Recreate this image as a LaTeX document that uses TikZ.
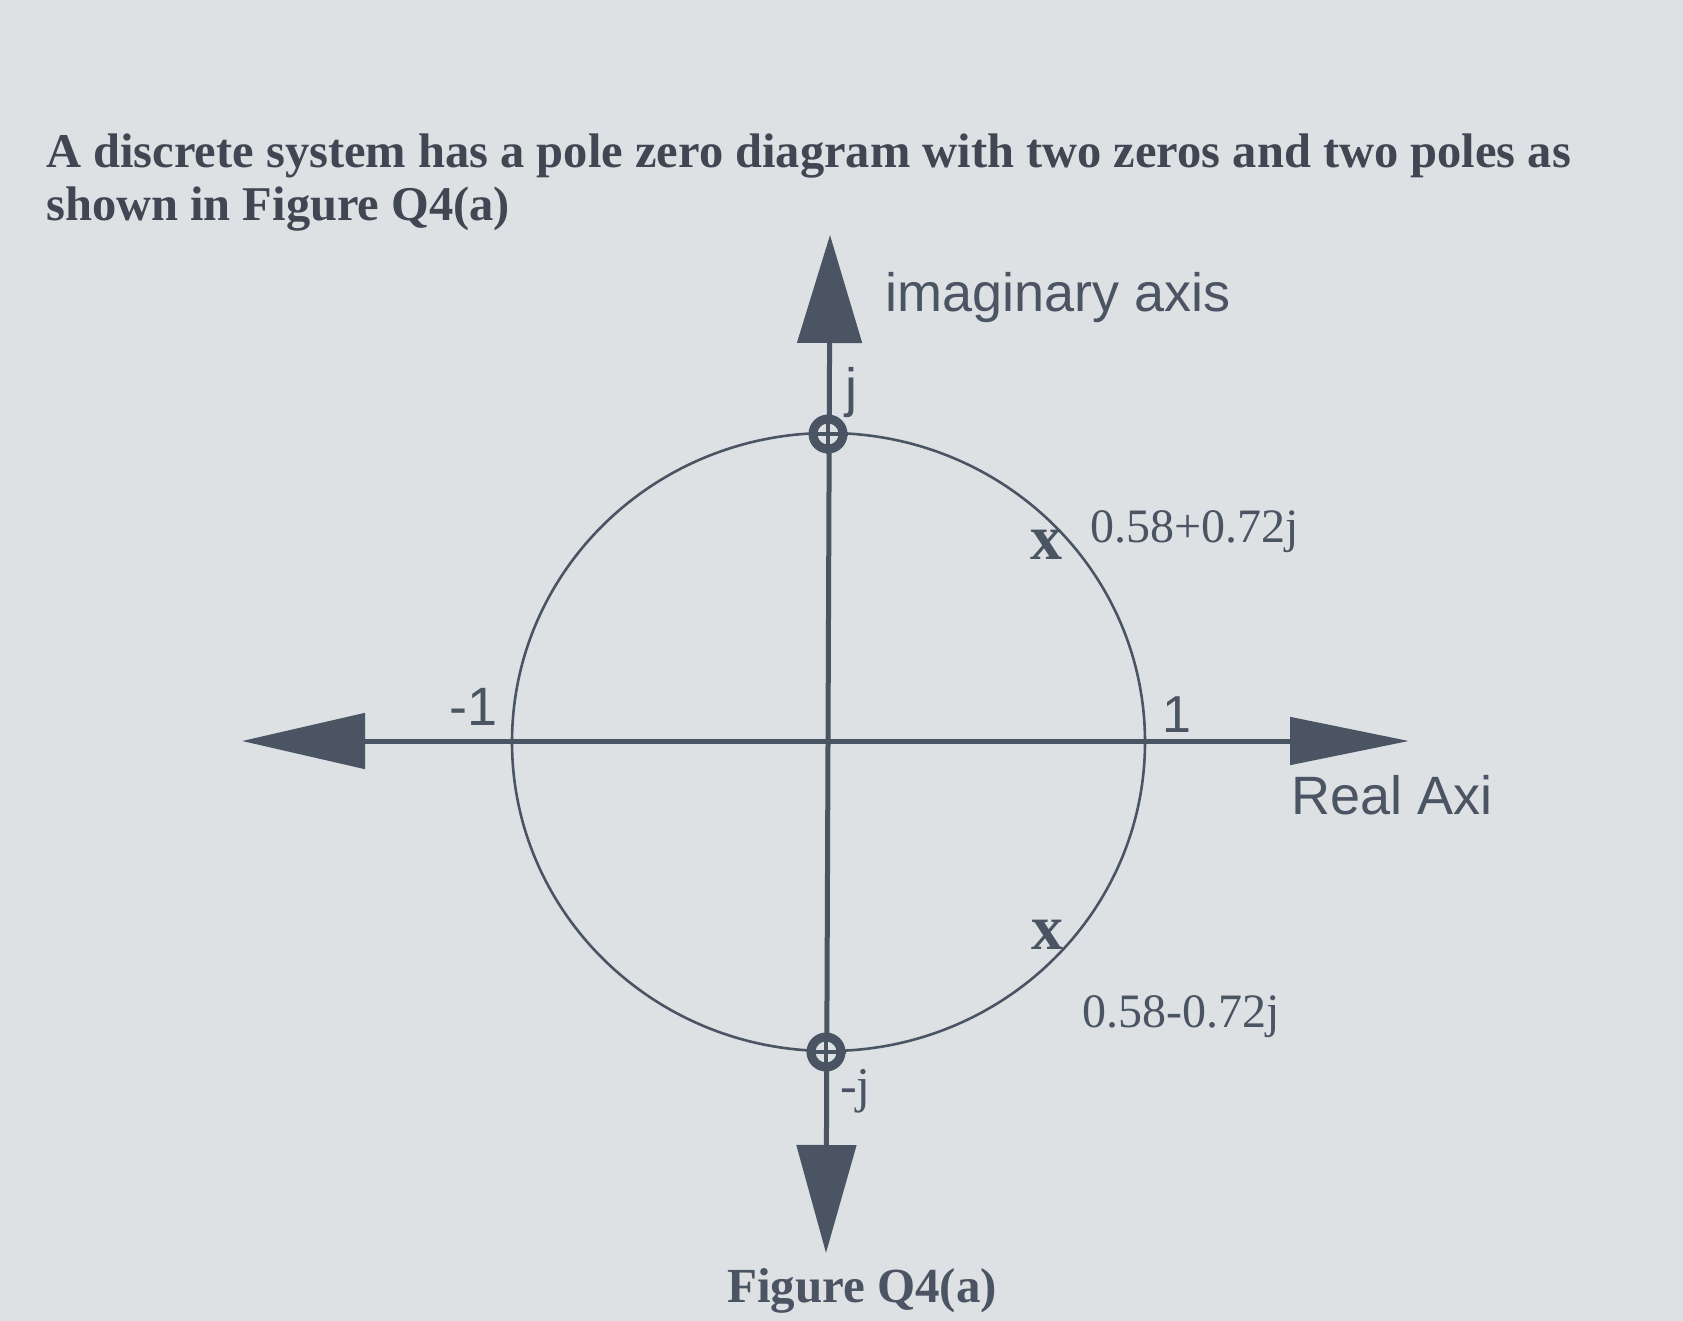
\documentclass[tikz,border=0pt]{standalone}
\usepackage{fontspec}
\setmainfont{Liberation Serif}
\newfontfamily\arialfont{Liberation Sans}
\usetikzlibrary{arrows.meta}
\definecolor{bgcol}{RGB}{221,225,228}
\definecolor{inkcol}{RGB}{64,70,82}
\definecolor{diagcol}{RGB}{74,84,98}
\tikzset{
  sanslabel/.style={inner sep=0pt, anchor=base west, text=diagcol, font=\arialfont\fontsize{54}{60}\selectfont},
  seriflabel/.style={inner sep=0pt, anchor=base west, text=diagcol, font=\fontsize{48}{54}\selectfont},
  titletext/.style={inner sep=0pt, anchor=base west, text=inkcol, font=\bfseries\fontsize{48.5}{54}\selectfont},
  polemark/.style={inner sep=0pt, text=diagcol, font=\bfseries\fontsize{64}{64}\selectfont},
  zeromark/.style={circle, draw=diagcol, fill=bgcol, line width=9pt, minimum size=30pt, inner sep=0pt},
  axisline/.style={draw=diagcol, line width=5pt},
  unitcircle/.style={draw=diagcol, line width=2.6pt}
}
\begin{document}
\begin{tikzpicture}[x=1pt, y=-1pt]
\fill[bgcol] (0,0) rectangle (1683,1321);
\useasboundingbox (0,0) rectangle (1683,1321);

% title
\node[titletext] (t1) at (46,168) {A discrete system has a pole zero diagram with two zeros and two poles as};
\node[titletext] (t2) at (46,221) {shown in Figure Q4(a)};

% axes
\coordinate (O) at (828,741);
\coordinate (L) at (242,741);
\coordinate (R) at (1409,741);
\coordinate (T) at (830,235);
\coordinate (B) at (826,1253);
\draw[axisline, {Triangle[length=123pt,width=55pt]}-{Triangle[length=119pt,width=47pt]}] (L) -- (R);
\draw[axisline, {Triangle[length=108pt,width=64pt]}-{Triangle[length=108pt,width=59pt]}] (T) -- (B);

% unit circle
\draw[unitcircle] (828.5,742) ellipse [x radius=316.5pt, y radius=309pt];

% zeros
\node[zeromark] (z1) at (828,434) {};
\node[zeromark] (z2) at (826,1052) {};
\draw[diagcol, line width=3.5pt] (z1.west) -- (z1.east);
\draw[diagcol, line width=3.5pt] (z1.north) -- (z1.south);
\draw[diagcol, line width=3.5pt] (z2.west) -- (z2.east);
\draw[diagcol, line width=3.5pt] (z2.north) -- (z2.south);

% poles
\node[polemark] (p1) at (1046,545) {x};
\node[polemark] (p2) at (1047,935) {x};

% labels
\node[sanslabel] (imlab) at (885,312) {imaginary axis};
\node[sanslabel] (jlab) at (845,406) {j};
\node[sanslabel, anchor=base east] (m1lab) at (498,725) {-1};
\node[sanslabel, font=\arialfont\fontsize{52}{58}\selectfont] (onelab) at (1162,732) {1};
\node[sanslabel] (relab) at (1291,814) {Real Axi};
\node[seriflabel, font=\fontsize{50}{56}\selectfont] (mjlab) at (840,1102) {-j};
\node[seriflabel] (p1lab) at (1090,542) {0.58+0.72j};
\node[seriflabel] (p2lab) at (1082,1027) {0.58-0.72j};
\node[titletext, font=\bfseries\fontsize{49}{54}\selectfont, text=diagcol] (cap) at (727,1302) {Figure Q4(a)};
\end{tikzpicture}
\end{document}
